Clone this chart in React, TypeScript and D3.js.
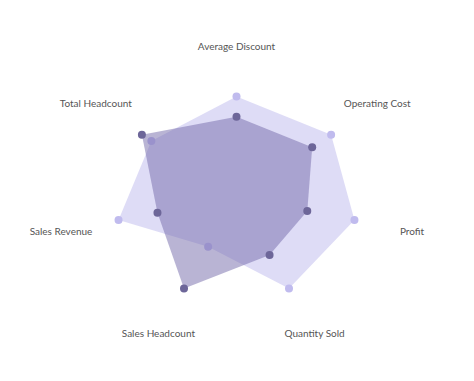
import React from "react";
import * as d3 from "d3";

const axes = ["Average Discount", "Operating Cost", "Profit", "Quantity Sold", "Sales Headcount", "Sales Revenue", "Total Headcount"];
const seriesA = [100, 100, 100, 100, 54, 100, 90];
const seriesB = [80, 80, 60, 63, 100, 67, 100];

const W = 474, H = 381;
const cx = 236.5, cy = 197.6;

export default function App() {
  const angle = d3.scaleLinear().domain([0, axes.length]).range([0, 2 * Math.PI]);
  const rx = d3.scaleLinear().domain([0, 100]).range([0, 121]);
  const ry = d3.scaleLinear().domain([0, 100]).range([0, 101]);
  const pt = (v: number, i: number): [number, number] => {
    const a = angle(i);
    return [cx + Math.sin(a) * rx(v), cy - Math.cos(a) * ry(v)];
  };
  const line = d3.line<[number, number]>().curve(d3.curveLinearClosed);
  const ptsA = seriesA.map((v, i) => pt(v, i));
  const ptsB = seriesB.map((v, i) => pt(v, i));
  return (
    <svg width={W} height={H} style={{ position: "absolute", left: 0, top: 0 }}>
      <rect width={W} height={H} fill="#fff" />
      <path d={line(ptsA) || ""} fill="rgb(200,196,240)" fillOpacity={0.6} stroke="none" />
      {ptsA.map((p, i) => (
        <circle key={"a" + i} cx={p[0]} cy={p[1]} r={4} fill="#c0bbee" />
      ))}
      <path d={line(ptsB) || ""} fill="rgb(115,105,170)" fillOpacity={0.5} stroke="none" />
      {ptsB.map((p, i) => (
        <circle key={"b" + i} cx={p[0]} cy={p[1]} r={4} fill="#6d6699" />
      ))}
      {axes.map((name, i) => {
        const a = angle(i);
        return (
          <text key={name} x={cx + Math.sin(a) * 180} y={cy - Math.cos(a) * 151} dy="0.35em" textAnchor="middle"
            fontFamily="Lato, 'Open Sans', sans-serif" fontSize={10} fill="#555">
            {name}
          </text>
        );
      })}
    </svg>
  );
}
